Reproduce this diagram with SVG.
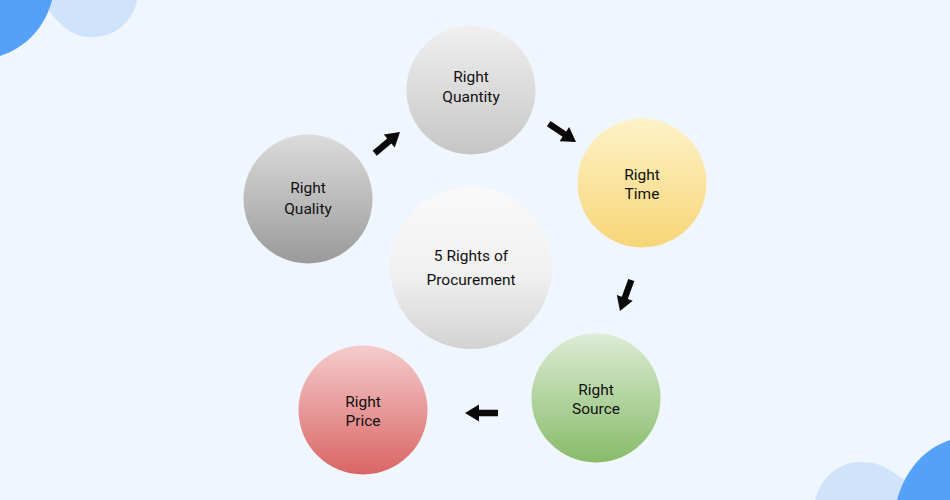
<svg xmlns="http://www.w3.org/2000/svg" width="950" height="500" viewBox="0 0 950 500">
<style>
.lbl{font-family:Roboto,"Liberation Sans",sans-serif;font-size:15.5px;font-weight:400;fill:#111;text-anchor:middle}
.arr{fill:#0a0a0a}
</style>
<defs>
<linearGradient id="gQual" x1="0" y1="0" x2="0" y2="1"><stop offset="0" stop-color="#dcdcdc"/><stop offset="1" stop-color="#9a9a9a"/></linearGradient>
<linearGradient id="gQuan" x1="0" y1="0" x2="0" y2="1"><stop offset="0" stop-color="#f0f0f0"/><stop offset="1" stop-color="#c6c6c6"/></linearGradient>
<linearGradient id="gTime" x1="0" y1="0" x2="0" y2="1"><stop offset="0" stop-color="#fdf2c8"/><stop offset="1" stop-color="#f6d577"/></linearGradient>
<linearGradient id="gSrc" x1="0" y1="0" x2="0" y2="1"><stop offset="0" stop-color="#dcecd6"/><stop offset="1" stop-color="#88bb68"/></linearGradient>
<linearGradient id="gPrice" x1="0" y1="0" x2="0" y2="1"><stop offset="0" stop-color="#f4cccc"/><stop offset="1" stop-color="#da6565"/></linearGradient>
<linearGradient id="gCtr" x1="0" y1="0" x2="0" y2="1"><stop offset="0" stop-color="#fafafa"/><stop offset="0.55" stop-color="#f0f0f0"/><stop offset="1" stop-color="#d2d2d2"/></linearGradient>
<path id="arrow" d="M-33,-3.2 L-14,-3.2 L-14,-8.5 L0,0 L-14,8.5 L-14,3.2 L-33,3.2 Z"/>
</defs>
<rect width="950" height="500" fill="#f0f6fd"/>
<g id="decor">
<path d="M40,0 C60,25 70,38 95,37 C120,36 135,15 137,0 Z" fill="#cfe4fb"/>
<path d="M0,0 L52,0 C45,28 25,48 0,56 Z" fill="#55a0f8"/>
<path d="M815,500 C822,475 840,462 862,462 C885,462 895,475 905,480 L905,500 Z" fill="#cfe4fb"/>
<path d="M897,500 C905,470 925,448 950,440 L950,500 Z" fill="#55a0f8"/>
</g>
<g id="connectors" class="arr">
<use href="#arrow" transform="translate(400,132) rotate(-40)"/>
<use href="#arrow" transform="translate(576,142) rotate(34)"/>
<use href="#arrow" transform="translate(620,311) rotate(110)"/>
<use href="#arrow" transform="translate(465,413) rotate(180)"/>
</g>
<g id="quality">
<circle cx="308" cy="199" r="64.5" fill="url(#gQual)"/>
<text class="lbl" x="308" y="193">Right</text>
<text class="lbl" x="308" y="214">Quality</text>
</g>
<g id="quantity">
<circle cx="471" cy="90" r="64.5" fill="url(#gQuan)"/>
<text class="lbl" x="471" y="82">Right</text>
<text class="lbl" x="471" y="102">Quantity</text>
</g>
<g id="time">
<circle cx="642" cy="183" r="64.5" fill="url(#gTime)"/>
<text class="lbl" x="642" y="180">Right</text>
<text class="lbl" x="642" y="199">Time</text>
</g>
<g id="center">
<circle cx="471" cy="268" r="81" fill="url(#gCtr)"/>
<text class="lbl" x="471" y="261">5 Rights of</text>
<text class="lbl" x="471" y="285">Procurement</text>
</g>
<g id="source">
<circle cx="596" cy="398" r="64.5" fill="url(#gSrc)"/>
<text class="lbl" x="596" y="395">Right</text>
<text class="lbl" x="596" y="414">Source</text>
</g>
<g id="price">
<circle cx="363" cy="410" r="64.5" fill="url(#gPrice)"/>
<text class="lbl" x="363" y="407">Right</text>
<text class="lbl" x="363" y="426">Price</text>
</g>
</svg>
